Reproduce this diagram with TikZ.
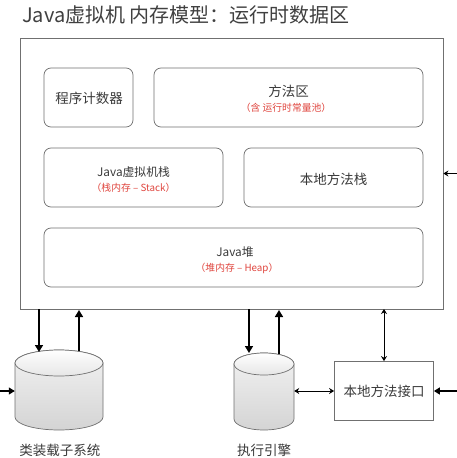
\documentclass[tikz,border=0pt]{standalone}
\usepackage{fontspec}
\setmainfont{Noto Sans CJK SC}
\usetikzlibrary{arrows.meta}
\definecolor{txt}{HTML}{3A3A3A}
\definecolor{ttl}{HTML}{404040}
\definecolor{bd}{HTML}{707070}
\definecolor{rd}{HTML}{E0463F}
\definecolor{cyltop}{HTML}{F2F2F2}
\definecolor{cylbot}{HTML}{D4D4D4}
\begin{document}
\begin{tikzpicture}[x=1pt,y=-1pt,
  rbox/.style={draw=bd, rounded corners=7pt, line width=0.7pt, inner sep=0pt},
  lbl/.style={text=txt, inner sep=0pt, font=\fontsize{13.5}{15}\selectfont},
  lbls/.style={text=txt, inner sep=0pt, font=\fontsize{11.8}{14}\selectfont},
  sub/.style={text=rd, inner sep=0pt, font=\fontsize{9.8}{11}\selectfont},
  bigarrow/.style={line width=1.6pt, -{Triangle[width=8pt,length=7pt]}},
  midarrow/.style={line width=1.2pt, -{Triangle[width=7pt,length=6pt]}},
  thinboth/.style={line width=0.8pt, {Stealth[width=6pt,length=5pt]}-{Stealth[width=6pt,length=5pt]}},
  thinone/.style={line width=0.8pt, -{Stealth[width=6pt,length=5pt]}}
]
\useasboundingbox (0,0) rectangle (457,458);
\fill[white] (0,0) rectangle (457,458);

\node[anchor=west, text=ttl, inner sep=0pt, font=\fontsize{20}{22}\selectfont] (title) at (22,15) {Java虚拟机 内存模型：运行时数据区};

\node[draw=bd, line width=0.8pt, minimum width=423pt, minimum height=271pt, inner sep=0pt] (outer) at (231.5,173.5) {};

\node[rbox, minimum width=89pt, minimum height=59pt] (pc) at (88.5,97.5) {};
\node[rbox, minimum width=269pt, minimum height=59pt] (ma) at (288.5,97.5) {};
\node[rbox, minimum width=179pt, minimum height=59pt] (jvs) at (133.5,177.5) {};
\node[rbox, minimum width=179pt, minimum height=59pt] (nms) at (333.5,177.5) {};
\node[rbox, minimum width=379pt, minimum height=59pt] (heap) at (233.5,257.5) {};

\node[lbl] (pcl) at (89,98) {程序计数器};
\node[lbl] (mal) at (288.5,91) {方法区};
\node[sub] (mas) at (286,108) {（含 运行时常量池）};
\node[lbls] (jvsl) at (133.5,172) {Java虚拟机栈};
\node[sub] (jvss) at (133.5,188) {（栈内存 – Stack）};
\node[lbl] (nmsl) at (333.5,179) {本地方法栈};
\node[lbls] (heapl) at (235,252) {Java堆};
\node[sub] (heaps) at (237,268) {（堆内存 – Heap）};

% cylinder 1
\shade[top color=cyltop, bottom color=cylbot, draw=bd, line width=0.7pt]
  (15,363) -- (15,417) arc[start angle=180, end angle=0, x radius=44, y radius=13]
  -- (103,363) arc[start angle=0, end angle=-180, x radius=44, y radius=13] -- cycle;
\shade[top color=white, bottom color=cyltop!95!black, draw=bd, line width=0.7pt] (59,363) ellipse[x radius=44, y radius=13];
\node[minimum width=88pt, minimum height=80pt, inner sep=0pt] (cyl1) at (59,391) {};

% cylinder 2
\shade[top color=cyltop, bottom color=cylbot, draw=bd, line width=0.7pt]
  (234,364) -- (234,419) arc[start angle=180, end angle=0, x radius=30, y radius=11]
  -- (294,364) arc[start angle=0, end angle=-180, x radius=30, y radius=11] -- cycle;
\shade[top color=white, bottom color=cyltop!95!black, draw=bd, line width=0.7pt] (264,364) ellipse[x radius=30, y radius=11];
\node[minimum width=60pt, minimum height=78pt, inner sep=0pt] (cyl2) at (264,391) {};

\node[draw=bd, line width=0.8pt, minimum width=99pt, minimum height=59pt, inner sep=0pt, text=txt, font=\fontsize{13.5}{15}\selectfont] (nmi) at (384,391) {本地方法接口};

\node[lbl] (cyl1l) at (60,450) {类装载子系统};
\node[lbl] (cyl2l) at (264,450) {执行引擎};

\coordinate (d1s) at (39,309);
\coordinate (d1e) at (39,352);
\coordinate (u1s) at (79,351);
\coordinate (u1e) at (79,310);
\coordinate (d2s) at (249,309);
\coordinate (d2e) at (249,353);
\coordinate (u2s) at (279,354);
\coordinate (u2e) at (279,310);
\coordinate (lin) at (0,391);
\coordinate (rin) at (457,391);
\coordinate (rtop) at (457,173.5);
\coordinate (nmitop) at (384,309);

\draw[bigarrow] (d1s) -- (d1e);
\draw[bigarrow] (u1s) -- (u1e);
\draw[bigarrow] (d2s) -- (d2e);
\draw[bigarrow] (u2s) -- (u2e);
\draw[midarrow] (lin) -- (cyl1.west);
\draw[midarrow] (rin) -- (nmi.east);
\draw[thinboth] (cyl2.east) -- (nmi.west);
\draw[thinboth] (nmi.north) -- (nmitop);
\draw[thinone] (rtop) -- (outer.east);
\end{tikzpicture}
\end{document}
